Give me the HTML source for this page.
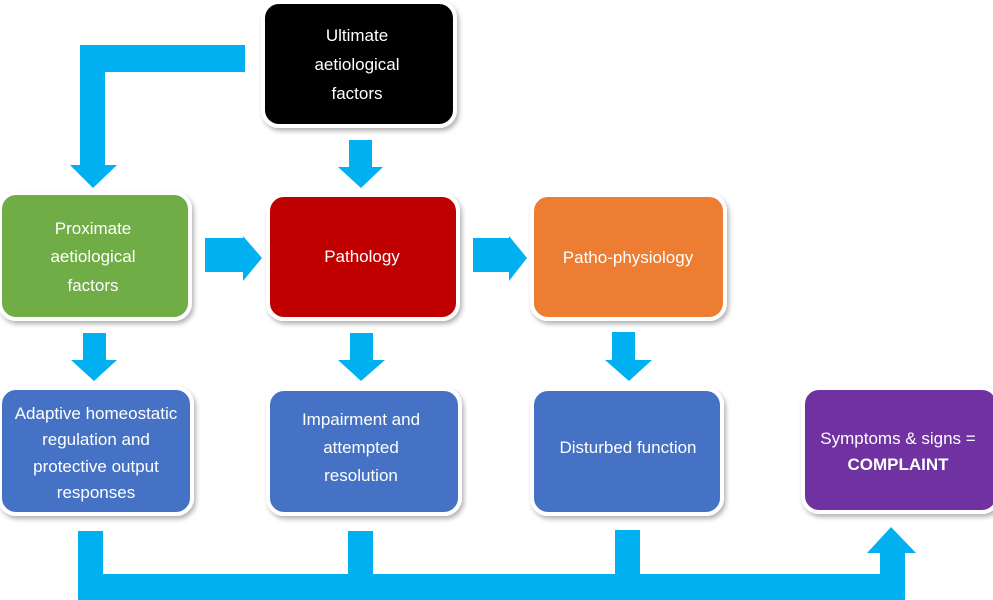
<!DOCTYPE html>
<html><head><meta charset="utf-8"><style>
html,body{margin:0;padding:0;background:#fff;width:993px;height:600px;overflow:hidden}
svg{display:block}
text{font-family:"Liberation Sans",sans-serif;font-size:17px;fill:#fff;text-anchor:middle}
</style></head><body>
<svg width="993" height="600" viewBox="0 0 993 600" xmlns="http://www.w3.org/2000/svg">
<defs>
<filter id="sh" x="-10%" y="-10%" width="125%" height="130%"><feDropShadow dx="2" dy="3" stdDeviation="2.5" flood-color="#000" flood-opacity="0.3"/></filter>
</defs>
<g fill="#00b0f0">
<!-- top L arrow -->
<polygon points="245,45 80,45 80,165 70,165 93,188 117,165 105,165 105,72 245,72"/>
<!-- black -> red -->
<polygon points="349,140 372,140 372,167 383,167 361,188 338,167 349,167"/>
<!-- green -> red -->
<polygon points="205,238 243,238 243,236 262,258 243,281 243,272 205,272"/>
<!-- red -> orange -->
<polygon points="473,238 509,238 509,236 527,258 509,281 509,272 473,272"/>
<!-- down arrows -->
<polygon points="83,333 106,333 106,360 117,360 94,381 71,360 83,360"/>
<polygon points="350,333 373,333 373,360 385,360 361,381 338,360 350,360"/>
<polygon points="612,332 635,332 635,360 652,360 629,381 605,360 612,360"/>
<!-- bottom bus -->
<rect x="78" y="531" width="25" height="69"/>
<rect x="348" y="531" width="25" height="45"/>
<rect x="615" y="530" width="25" height="46"/>
<rect x="78" y="574" width="827" height="26"/>
<polygon points="880,600 905,600 905,553 916,553 891,527 867,553 880,553"/>
</g>
<g stroke="#fff" stroke-width="4" filter="url(#sh)">
<rect x="263" y="2" width="192" height="124" rx="16" fill="#000"/>
<rect x="0" y="193" width="190" height="126" rx="16" fill="#70ad47"/>
<rect x="268" y="195" width="190" height="124" rx="16" fill="#c00000"/>
<rect x="532" y="195" width="193" height="124" rx="16" fill="#ed7d31"/>
<rect x="0" y="388" width="192" height="126" rx="16" fill="#4472c4"/>
<rect x="268" y="389" width="192" height="125" rx="16" fill="#4472c4"/>
<rect x="532" y="389" width="190" height="125" rx="16" fill="#4472c4"/>
<rect x="803" y="388" width="195" height="124" rx="16" fill="#7030a0"/>
</g>
<text x="357" y="41">Ultimate</text>
<text x="357" y="70">aetiological</text>
<text x="357" y="99">factors</text>
<text x="93" y="234">Proximate</text>
<text x="93" y="262">aetiological</text>
<text x="93" y="291">factors</text>
<text x="362" y="262">Pathology</text>
<text x="628" y="263">Patho-physiology</text>
<text x="96" y="419" font-size="16.5">Adaptive homeostatic</text>
<text x="96" y="445" font-size="16.5">regulation and</text>
<text x="96" y="472" font-size="16.5">protective output</text>
<text x="96" y="498" font-size="16.5">responses</text>
<text x="361" y="425">Impairment and</text>
<text x="361" y="453">attempted</text>
<text x="361" y="481">resolution</text>
<text x="628" y="453">Disturbed function</text>
<text x="898" y="444" font-size="16">Symptoms &amp; signs =</text>
<text x="898" y="470" font-size="16" font-weight="bold">COMPLAINT</text>
</svg>
</body></html>
